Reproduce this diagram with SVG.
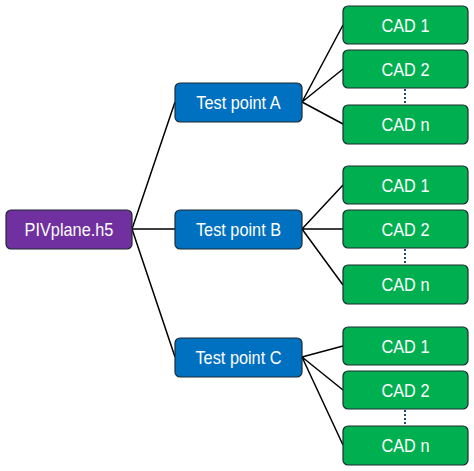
<svg xmlns="http://www.w3.org/2000/svg" width="474" height="471" viewBox="0 0 474 471">
<style>
.box{stroke:#1c2a33;stroke-width:1.2}
.root{fill:#7030a0}
.tp{fill:#0070c0}
.cad{fill:#00b050}
text{font-family:"Liberation Sans",Arial,sans-serif;font-size:16.3px;fill:#ffffff;text-anchor:middle;transform-box:fill-box;transform-origin:center;transform:scaleY(1.1)}
.c{stroke:#000;stroke-width:1.5;fill:none}
.dot{stroke:#1f4e79;stroke-width:2;stroke-dasharray:2 2;fill:none}
</style>
<rect width="474" height="471" fill="#fff"/>
<g id="connectors">
<path class="c" d="M132,229 L175,102 M132,229 L175,229 M132,229 L175,357"/>
<path class="c" d="M302,102 L343,25 M302,102 L343,69 M302,102 L343,124"/>
<path class="c" d="M302,229 L343,185 M302,229 L343,229 M302,229 L343,285"/>
<path class="c" d="M302,357 L343,346 M302,357 L343,390 M302,357 L343,445"/>
<path class="dot" d="M405,89 V105 M405,249 V265 M405,410 V426"/>
</g>
<g id="root"><rect class="box root" x="6" y="210" width="126" height="39" rx="5"/><text x="69" y="235.5">PIVplane.h5</text></g>
<g id="tpA"><rect class="box tp" x="175" y="83" width="127" height="39" rx="5"/><text x="238.5" y="108.5">Test point A</text></g>
<g id="tpB"><rect class="box tp" x="175" y="210" width="127" height="39" rx="5"/><text x="238.5" y="235.5">Test point B</text></g>
<g id="tpC"><rect class="box tp" x="175" y="338" width="127" height="39" rx="5"/><text x="238.5" y="363.5">Test point C</text></g>
<g id="a1"><rect class="box cad" x="343" y="6" width="125" height="38" rx="5"/><text x="405.5" y="31.5">CAD 1</text></g>
<g id="a2"><rect class="box cad" x="343" y="50" width="125" height="38" rx="5"/><text x="405.5" y="75.5">CAD 2</text></g>
<g id="an"><rect class="box cad" x="343" y="105" width="125" height="39" rx="5"/><text x="405.5" y="130.5">CAD n</text></g>
<g id="b1"><rect class="box cad" x="343" y="166" width="125" height="38" rx="5"/><text x="405.5" y="191.5">CAD 1</text></g>
<g id="b2"><rect class="box cad" x="343" y="210" width="125" height="38" rx="5"/><text x="405.5" y="235.5">CAD 2</text></g>
<g id="bn"><rect class="box cad" x="343" y="265" width="125" height="39" rx="5"/><text x="405.5" y="290.5">CAD n</text></g>
<g id="c1"><rect class="box cad" x="343" y="327" width="125" height="38" rx="5"/><text x="405.5" y="352.5">CAD 1</text></g>
<g id="c2"><rect class="box cad" x="343" y="371" width="125" height="38" rx="5"/><text x="405.5" y="396.5">CAD 2</text></g>
<g id="cn"><rect class="box cad" x="343" y="426" width="125" height="39" rx="5"/><text x="405.5" y="451.5">CAD n</text></g>
</svg>
